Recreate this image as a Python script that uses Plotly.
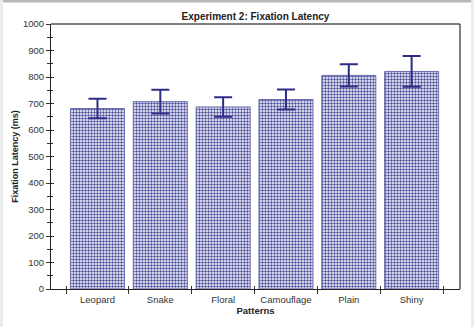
import plotly.graph_objects as go

categories = ["Leopard", "Snake", "Floral", "Camouflage", "Plain", "Shiny"]
latency_ms = [681, 707, 687, 715, 806, 821]
error_ms = [37, 45, 37, 38, 42, 58]
y_tick_values = [0, 100, 200, 300, 400, 500, 600, 700, 800, 900, 1000]

FONT = "Liberation Sans, Arial, sans-serif"
NAVY = "#2d2d86"

W, H = 474, 327
ML, MR, MT, MB = 51, 14, 24, 38
PW, PH = W - ML - MR, H - MT - MB


def px_x(p):
    return (p - ML) / PW


def px_y(p):
    return (H - MB - p) / PH


fig = go.Figure()
fig.add_trace(go.Bar(
    x=categories,
    y=latency_ms,
    width=0.86,
    marker=dict(
        color="white",
        line=dict(color="#6a6eae", width=1),
        pattern=dict(shape=".", size=3, solidity=0.5, fgcolor="#4a4e9c",
                     bgcolor="white", fillmode="replace"),
    ),
    error_y=dict(type="data", array=error_ms, symmetric=True,
                 color=NAVY, thickness=2, width=9),
    showlegend=False,
))
# invisible trace for secondary (inside-tick) axes
fig.add_trace(go.Scatter(x=categories, y=latency_ms, xaxis="x2", yaxis="y2",
                         mode="markers", marker=dict(opacity=0), showlegend=False,
                         hoverinfo="skip"))

fig.update_layout(
    width=W, height=H,
    margin=dict(l=ML, r=MR, t=MT, b=MB),
    paper_bgcolor="white", plot_bgcolor="white",
    font=dict(family=FONT, size=9, color="#333333"),
    title=dict(text="<b>Experiment 2: Fixation Latency</b>", x=0.5, xref="paper",
               xanchor="center", y=1, yref="paper", yanchor="bottom",
               pad=dict(b=4), font=dict(size=10, color="#222222", family=FONT)),
    xaxis=dict(
        type="category", range=[-0.74, 5.77],
        tickson="boundaries", ticks="outside", ticklen=4, tickcolor="#333",
        showline=True, linecolor="#222", linewidth=1, showgrid=False,
        title=dict(text="<b>Patterns</b>", standoff=2, font=dict(size=9.5, color="#222")),
        tickfont=dict(size=9.5), ticklabelstandoff=2,
    ),
    yaxis=dict(
        range=[0, 1000], tickvals=y_tick_values, ticks="outside", ticklen=4,
        tickcolor="#333", showline=True, linecolor="#222", linewidth=1,
        showgrid=False, zeroline=False,
        minor=dict(dtick=50, ticks="outside", ticklen=3, tickcolor="#333"),
        title=dict(text="<b>Fixation Latency (ms)</b>", standoff=2,
                   font=dict(size=9, color="#222")),
        tickfont=dict(size=9.5),
    ),
    xaxis2=dict(type="category", overlaying="x", range=[-0.74, 5.77],
                tickson="boundaries", ticks="inside", ticklen=3, tickcolor="#333",
                showticklabels=False, showgrid=False, showline=False, side="bottom"),
    yaxis2=dict(overlaying="y", range=[0, 1000], tickvals=y_tick_values,
                ticks="inside", ticklen=3, tickcolor="#333", showticklabels=False,
                showgrid=False, zeroline=False, showline=False, side="left",
                minor=dict(dtick=50, ticks="inside", ticklen=2, tickcolor="#333")),
    shapes=[
        dict(type="line", xref="paper", yref="paper", x0=0, x1=1, y0=1, y1=1,
             line=dict(color="#555555", width=1.5)),
        dict(type="line", xref="paper", yref="paper", x0=1, x1=1, y0=0, y1=1,
             line=dict(color="#555555", width=1.5)),
        # outer image frame
        dict(type="rect", xref="paper", yref="paper", x0=px_x(0), x1=px_x(W),
             y0=px_y(2.5), y1=px_y(0), fillcolor="#b8b8b8", line=dict(width=0), layer="below"),
        dict(type="rect", xref="paper", yref="paper", x0=px_x(0), x1=px_x(3),
             y0=px_y(H), y1=px_y(0), fillcolor="#ececec", line=dict(width=0), layer="below"),
        dict(type="rect", xref="paper", yref="paper", x0=px_x(471), x1=px_x(W),
             y0=px_y(H), y1=px_y(0), fillcolor="#ececec", line=dict(width=0), layer="below"),
    ],
)

fig.write_html("out.html")
